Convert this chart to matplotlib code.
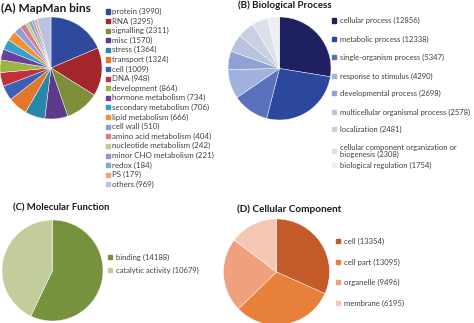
import matplotlib
matplotlib.use("Agg")
import matplotlib.pyplot as plt
from matplotlib.patches import Rectangle

W, H = 474, 323

# (A) MapMan bins
mapman_labels = ["protein", "RNA", "signalling", "misc", "stress", "transport", "cell", "DNA",
                 "development", "hormone metabolism", "secondary metabolism", "lipid metabolism",
                 "cell wall", "amino acid metabolism", "nucleotide metabolism",
                 "minor CHO metabolism", "redox", "PS", "others"]
mapman_counts = [3990, 3295, 2311, 1570, 1364, 1324, 1009, 948, 864, 734, 706, 666,
                 510, 404, 242, 221, 184, 179, 969]
mapman_colors = ["#2f4a9c", "#a3262c", "#7e8f3a", "#5d3a8a", "#2a86a6", "#e2772a", "#3d5fb5",
                 "#c2303c", "#9ab543", "#6b3f9b", "#37a0c7", "#f39234", "#8c9fd8", "#d97c88",
                 "#bdce8c", "#a293c2", "#7fafcf", "#f3a185", "#bac2e2"]

# (B) Biological Process
bp_labels = ["cellular process", "metabolic process", "single-organism process",
             "response to stimulus", "developmental process",
             "multicellular organismal process", "localization",
             "cellular component organization or\nbiogenesis", "biological regulation"]
bp_counts = [12856, 12338, 5347, 4290, 2698, 2578, 2481, 2308, 1754]
bp_colors = ["#1f205f", "#2c479e", "#5a72bc", "#a0b2dc", "#8ea2d4", "#b9c3de",
             "#c9d0e4", "#dce0eb", "#eeeff3"]

# (C) Molecular Function
mf_labels = ["binding", "catalytic activity"]
mf_counts = [14188, 10679]
mf_colors = ["#77923c", "#c2cd9b"]

# (D) Cellular Component
cc_labels = ["cell", "cell part", "organelle", "membrane"]
cc_counts = [13354, 13095, 9496, 6195]
cc_colors = ["#c55a2a", "#e7803b", "#efa07c", "#f4c6b4"]

plt.rcParams["font.family"] = ["Lato", "DejaVu Sans"]
fig = plt.figure(figsize=(W / 100, H / 100), dpi=100)
fig.patch.set_facecolor("white")
renderer = fig.canvas.get_renderer()


def fit_size(s, target, weight="normal"):
    # font size that makes s about target pixels wide
    t = fig.text(0, 0, s, fontsize=10, fontweight=weight)
    w = t.get_window_extent(renderer).width
    t.remove()
    return 10 * target / w


def pie_at(cx, cy, r, counts, colors):
    ax = fig.add_axes([(cx - r) / W, 1 - (cy + r) / H, 2 * r / W, 2 * r / H])
    ax.pie(counts, colors=colors, startangle=90, counterclock=False,
           wedgeprops=dict(linewidth=0.3, edgecolor="white"))
    ax.set_xlim(-1, 1)
    ax.set_ylim(-1, 1)
    ax.axis("off")
    return ax


def legend_at(mx, tx, ys, labels, counts, colors, size):
    for y, lab, n, c in zip(ys, labels, counts, colors):
        fig.patches.append(Rectangle(((mx - 2) / W, 1 - (y + 2) / H), 4 / W, 4 / H,
                                     color=c, transform=fig.transFigure, figure=fig))
        fig.text(tx / W, 1 - y / H, f"{lab} ({n})", fontsize=size, color="#404040",
                 ha="left", va="center", linespacing=0.95)


def title_at(x, y, s, width):
    fig.text(x / W, 1 - y / H, s, fontsize=fit_size(s, width, "bold"), fontweight="bold",
             color="#1a1a1a", ha="left", va="center")


pie_at(51, 68, 51, mapman_counts, mapman_colors)
pie_at(279.5, 68.5, 51.5, bp_counts, bp_colors)
pie_at(52.5, 270.5, 50.5, mf_counts, mf_colors)
pie_at(276.5, 272, 53, cc_counts, cc_colors)

title_at(1, 8, "(A) MapMan bins", 90)
title_at(238, 5, "(B) Biological Process", 94)
title_at(13, 208, "(C) Molecular Function", 97)
title_at(237, 209, "(D) Cellular Component", 104)

legend_at(107.5, 112, [11.5 + 9.6 * i for i in range(len(mapman_labels))],
          mapman_labels, mapman_counts, mapman_colors,
          fit_size("amino acid metabolism (404)", 99))
legend_at(334, 340, [20.5, 39, 57, 76, 93, 112, 129, 151, 165],
          bp_labels, bp_counts, bp_colors,
          fit_size("multicellular organismal process (2578)", 131))
legend_at(110, 116, [257, 270], mf_labels, mf_counts, mf_colors,
          fit_size("catalytic activity (10679)", 83))
legend_at(338, 344, [241, 262, 282, 303], cc_labels, cc_counts, cc_colors,
          fit_size("cell part (13095)", 56))

fig.savefig("out.png", dpi=100)
